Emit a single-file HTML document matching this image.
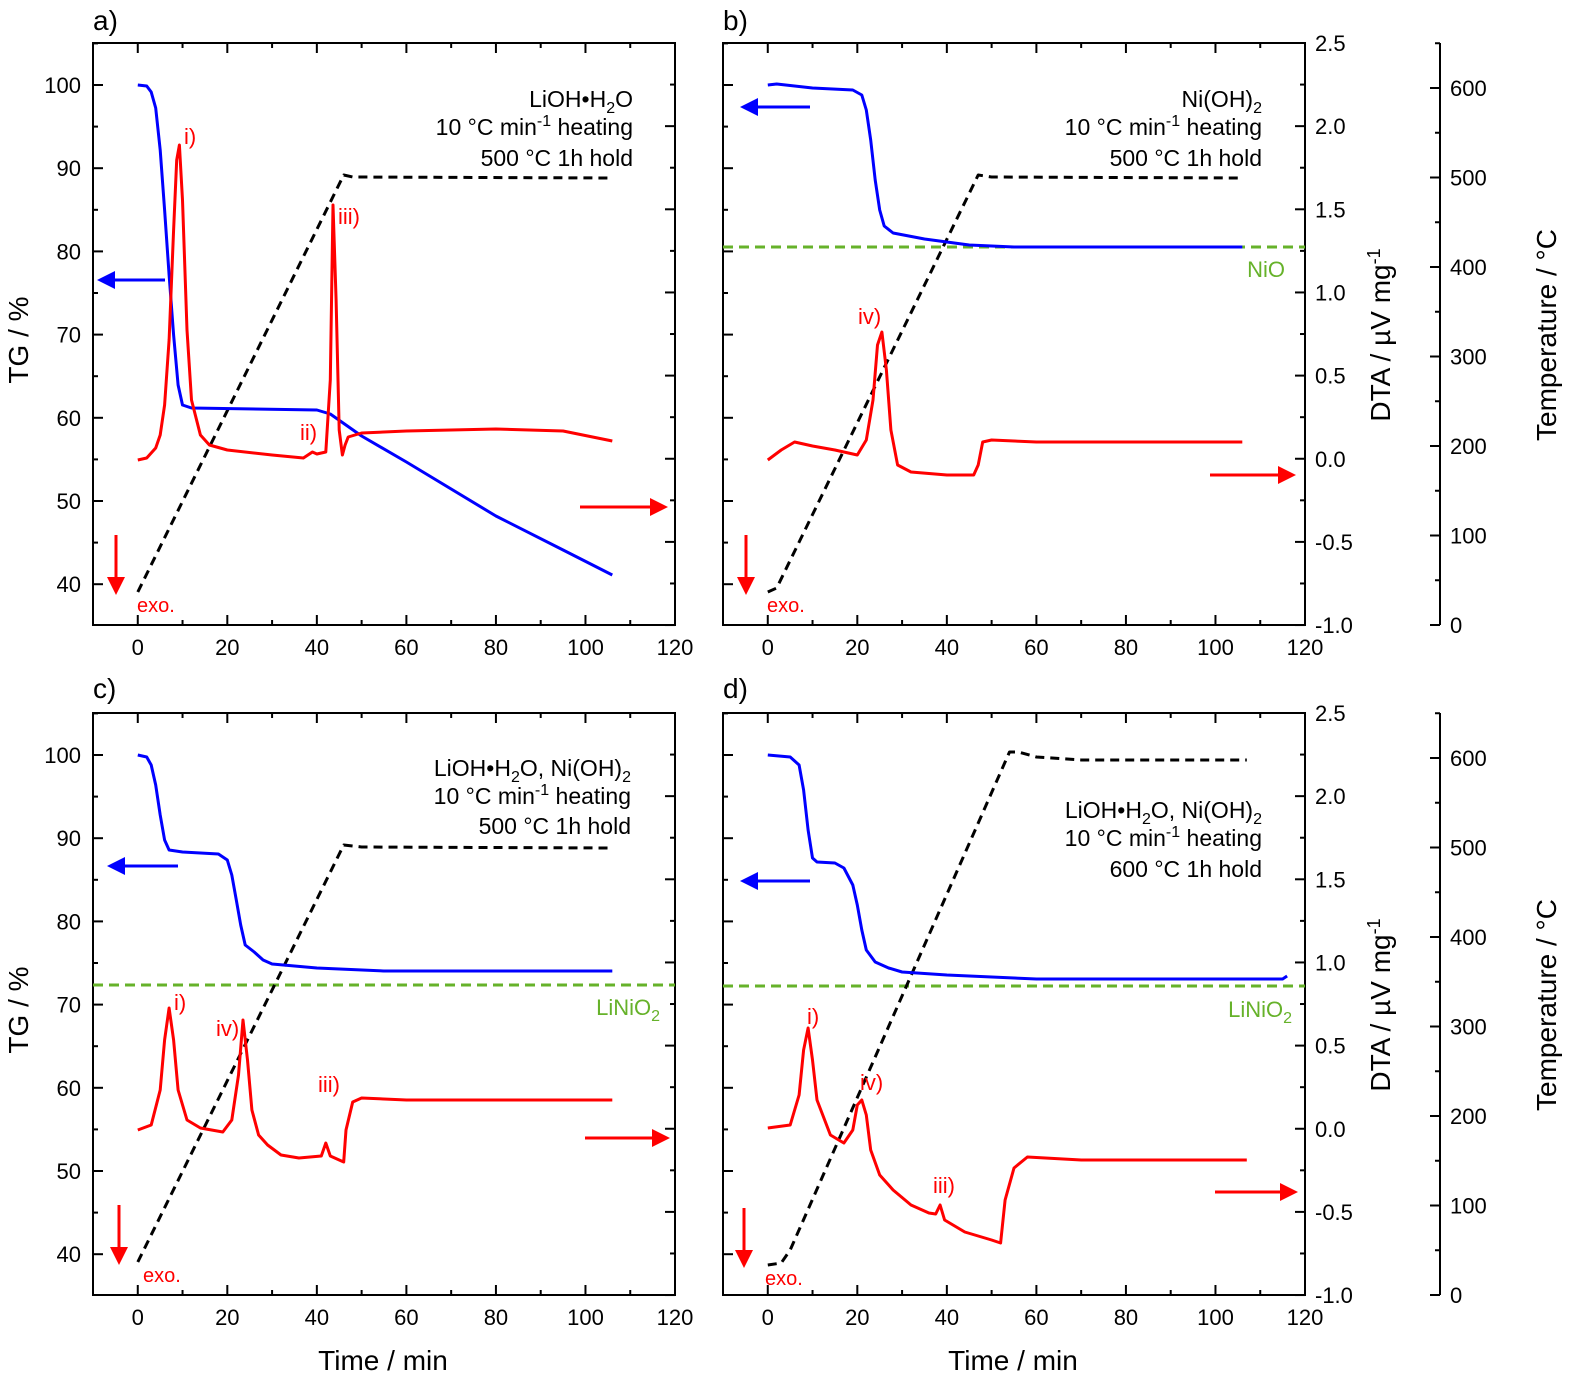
<!DOCTYPE html>
<html><head><meta charset="utf-8"><style>
body{margin:0;background:#fff}
svg{display:block;font-family:"Liberation Sans",Arial,sans-serif}
</style></head><body>
<svg id="s" width="1570" height="1378" viewBox="0 0 1570 1378" xmlns="http://www.w3.org/2000/svg">
<defs>
<marker id="ab" markerWidth="6" markerHeight="6" refX="5" refY="3" orient="auto" markerUnits="strokeWidth"><path d="M0,0L6,3L0,6z" fill="#0000ff"/></marker>
<marker id="ar" markerWidth="6" markerHeight="6" refX="5" refY="3" orient="auto" markerUnits="strokeWidth"><path d="M0,0L6,3L0,6z" fill="#ff0000"/></marker>
</defs>
<g id="g"></g>
<g font-size="28" fill="#000">
<text x="93" y="30">a)</text><text x="723" y="30">b)</text>
<text x="93" y="698">c)</text><text x="723" y="698">d)</text>
<text x="383" y="1370" text-anchor="middle" font-size="28">Time / min</text>
<text x="1013" y="1370" text-anchor="middle" font-size="28">Time / min</text>
<text transform="translate(28,340) rotate(-90)" text-anchor="middle" font-size="28">TG / %</text>
<text transform="translate(28,1010) rotate(-90)" text-anchor="middle" font-size="28">TG / %</text>
<text transform="translate(1390,335) rotate(-90)" text-anchor="middle" font-size="28">DTA / µV mg<tspan dy="-10" font-size="18">-1</tspan></text>
<text transform="translate(1390,1005) rotate(-90)" text-anchor="middle" font-size="28">DTA / µV mg<tspan dy="-10" font-size="18">-1</tspan></text>
<text transform="translate(1556,335) rotate(-90)" text-anchor="middle" font-size="28">Temperature / °C</text>
<text transform="translate(1556,1005) rotate(-90)" text-anchor="middle" font-size="28">Temperature / °C</text>
</g>
<g font-size="23" text-anchor="end">
<text x="633" y="107">LiOH•H<tspan dy="6" font-size="16">2</tspan><tspan dy="-6">O</tspan></text>
<text x="633" y="135">10 °C min<tspan dy="-9" font-size="16">-1</tspan><tspan dy="9"> heating</tspan></text>
<text x="633" y="166">500 °C 1h hold</text>
<text x="1262" y="107">Ni(OH)<tspan dy="6" font-size="16">2</tspan></text>
<text x="1262" y="135">10 °C min<tspan dy="-9" font-size="16">-1</tspan><tspan dy="9"> heating</tspan></text>
<text x="1262" y="166">500 °C 1h hold</text>
<text x="631" y="776">LiOH•H<tspan dy="6" font-size="16">2</tspan><tspan dy="-6">O, Ni(OH)</tspan><tspan dy="6" font-size="16">2</tspan></text>
<text x="631" y="804">10 °C min<tspan dy="-9" font-size="16">-1</tspan><tspan dy="9"> heating</tspan></text>
<text x="631" y="834">500 °C 1h hold</text>
<text x="1262" y="818">LiOH•H<tspan dy="6" font-size="16">2</tspan><tspan dy="-6">O, Ni(OH)</tspan><tspan dy="6" font-size="16">2</tspan></text>
<text x="1262" y="846">10 °C min<tspan dy="-9" font-size="16">-1</tspan><tspan dy="9"> heating</tspan></text>
<text x="1262" y="877">600 °C 1h hold</text>
</g>
<g font-size="22" fill="#ff0000">
<text x="184" y="144">i)</text><text x="338" y="224">iii)</text><text x="300" y="440">ii)</text>
<text x="858" y="324">iv)</text>
<text x="174" y="1010">i)</text><text x="216" y="1036">iv)</text><text x="318" y="1092">iii)</text>
<text x="807" y="1024">i)</text><text x="860" y="1090">iv)</text><text x="933" y="1193">iii)</text>
<text x="137" y="612" font-size="20">exo.</text><text x="767" y="612" font-size="20">exo.</text>
<text x="143" y="1282" font-size="20">exo.</text><text x="765" y="1285" font-size="20">exo.</text>
</g>
<g font-size="22" fill="#66b22a" text-anchor="end">
<text x="1285" y="277">NiO</text>
<text x="660" y="1015">LiNiO<tspan dy="6" font-size="16">2</tspan></text>
<text x="1292" y="1017">LiNiO<tspan dy="6" font-size="16">2</tspan></text>
</g>
</svg>
<script>
var g=document.getElementById('g'),h='';
function X(px,t){return px+(t+10)*4.477;}
function path(px,pts,col,dash,w){var d='';pts.forEach(function(p,i){d+=(i?'L':'M')+X(px,p[0]).toFixed(1)+','+p[1];});
h+='<path d="'+d+'" fill="none" stroke="'+col+'" stroke-width="'+(w||3)+'" stroke-linejoin="round"'+(dash?' stroke-dasharray="9,6"':'')+'/>';}
function line(x1,y1,x2,y2,c,w,extra){h+='<line x1="'+x1+'" y1="'+y1+'" x2="'+x2+'" y2="'+y2+'" stroke="'+(c||'#000')+'" stroke-width="'+(w||2)+'" '+(extra||'')+'/>';}
function txt(x,y,s,a){h+='<text x="'+x+'" y="'+y+'" font-size="22" text-anchor="'+(a||'middle')+'">'+s+'</text>';}
function panel(px,py,leftLab,rightLab){
 h+='<rect x="'+px+'" y="'+py+'" width="582" height="582" fill="none" stroke="#000" stroke-width="2"/>';
 for(var t=-10;t<=120;t+=10){var x=X(px,t),L=(t%20==0)?10:5;line(x,py+582,x,py+582-L);line(x,py,x,py+L);if(t%20==0&&t>=0)txt(x,py+612,t);}
 for(var v=40;v<=105;v+=5){var y=py+42+(100-v)*8.32,L=(v%10==0)?10:5;line(px,y,px+L,y);if(leftLab&&v%10==0)txt(px-12,y+8,v,'end');}
 for(var d=-1;d<=2.5;d+=0.25){var y=py+(2.5-d)*166.3,L=(Math.abs(d*2-Math.round(d*2))<1e-6)?10:5;line(px+582,y,px+582-L,y);if(rightLab&&L==10)txt(px+592,y+8,d.toFixed(1),'start');}
}
function tempAxis(py){line(1440,py,1440,py+582);for(var T=0;T<=650;T+=50){var y=py+582-T*0.895,L=(T%100==0)?10:5;line(1440,y,1440-L,y);if(T%100==0&&T<=600)txt(1450,y+8,T,'start');}}
panel(93,43,1,0);panel(723,43,0,1);panel(93,713,1,0);panel(723,713,0,1);tempAxis(43);tempAxis(713);
var B='#0000ff',R='#ff0000',K='#000',G='#66b22a';
line(723,247,1305,247,G,3,'stroke-dasharray="10,6"');
line(93,985,675,985,G,3,'stroke-dasharray="10,6"');
line(723,986,1305,986,G,3,'stroke-dasharray="10,6"');
// a
path(93,[[0,592],[46,175],[48,177],[106,178]],K,1);
path(93,[[0,85],[2,86],[3,92],[4,108],[5,150],[6,210],[7,275],[8,335],[9,385],[10,405],[12,408],[40,410],[43,414],[50,436],[60,462],[80,516],[95,550],[106,575]],B);
path(93,[[0,460],[2,458],[4,448],[5,435],[6,405],[7,340],[8,230],[8.7,160],[9.3,145],[10,200],[11,330],[12,400],[14,435],[16,445],[20,450],[30,455],[37,458],[38,455],[39,452],[40,454],[42,452],[43,380],[43.6,205],[44.3,300],[45,430],[45.7,455],[46.3,445],[47,437],[50,433],[60,431],[80,429],[95,431],[106,441]],R);
// b
path(723,[[0,592],[2,588],[47,175],[50,177],[106,178]],K,1);
path(723,[[0,85],[2,84],[10,88],[19,90],[21,95],[22,110],[23,140],[24,180],[25,210],[26,226],[28,233],[35,239],[45,245],[55,247],[106,247]],B);
path(723,[[0,460],[3,450],[6,442],[10,446],[15,450],[20,455],[22,440],[23.5,400],[24.5,345],[25.5,332],[26.5,370],[27.5,430],[29,465],[32,472],[40,475],[46,475],[47,465],[48,442],[50,440],[60,442],[80,442],[106,442]],R);
// c
path(93,[[0,1262],[46,845],[50,847],[106,848]],K,1);
path(93,[[0,755],[2,757],[3,765],[4,785],[5,815],[6,840],[7,850],[10,852],[18,854],[20,860],[21,875],[22,900],[23,925],[24,945],[26,952],[28,960],[30,964],[40,968],[55,971],[70,971],[106,971]],B);
path(93,[[0,1130],[3,1125],[5,1090],[6,1040],[7,1008],[8,1040],[9,1090],[11,1120],[14,1128],[19,1132],[21,1120],[22.5,1075],[23.5,1020],[24.5,1060],[25.5,1110],[27,1135],[29,1145],[32,1155],[36,1158],[41,1156],[42,1143],[43,1156],[45,1160],[46,1162],[46.5,1130],[48,1102],[50,1098],[60,1100],[106,1100]],R);
// d
path(723,[[0,1265],[3,1263],[5,1250],[54,752],[56,752],[60,757],[70,760],[107,760]],K,1);
path(723,[[0,755],[5,757],[7,765],[8,790],[9,830],[10,858],[11,862],[15,863],[17,868],[19,885],[20,905],[21,930],[22,950],[24,962],[27,968],[30,972],[40,975],[60,979],[115,979],[116,976]],B);
path(723,[[0,1128],[5,1125],[7,1095],[8,1050],[9,1028],[10,1060],[11,1100],[14,1135],[17,1143],[19,1130],[20,1105],[21,1100],[22,1115],[23,1150],[25,1175],[28,1190],[32,1205],[36,1213],[37.5,1214],[38.5,1205],[39.5,1220],[44,1232],[50,1240],[52,1243],[53,1200],[55,1168],[58,1157],[70,1160],[107,1160]],R);
// arrows
line(165,280,100,280,B,3,'marker-end="url(#ab)"');line(580,507,665,507,R,3,'marker-end="url(#ar)"');line(116,535,116,592,R,3,'marker-end="url(#ar)"');
line(810,107,743,107,B,3,'marker-end="url(#ab)"');line(1210,475,1293,475,R,3,'marker-end="url(#ar)"');line(746,535,746,592,R,3,'marker-end="url(#ar)"');
line(178,866,110,866,B,3,'marker-end="url(#ab)"');line(585,1138,667,1138,R,3,'marker-end="url(#ar)"');line(119,1205,119,1262,R,3,'marker-end="url(#ar)"');
line(810,881,743,881,B,3,'marker-end="url(#ab)"');line(1215,1192,1295,1192,R,3,'marker-end="url(#ar)"');line(744,1208,744,1265,R,3,'marker-end="url(#ar)"');
g.innerHTML=h;
</script>
</body></html>
